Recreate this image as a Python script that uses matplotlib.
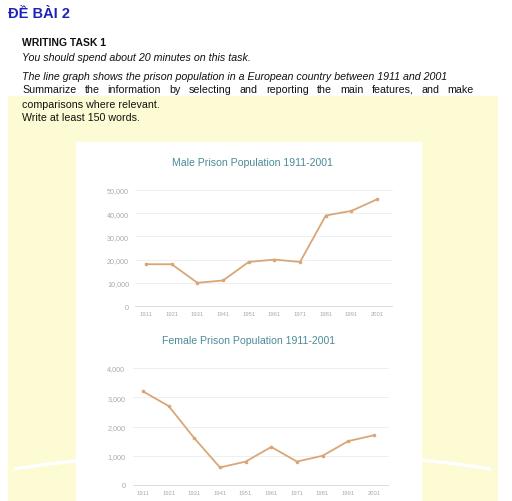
import numpy as np
import matplotlib.pyplot as plt
from matplotlib.patches import Rectangle, Ellipse

years = [1911, 1921, 1931, 1941, 1951, 1961, 1971, 1981, 1991, 2001]
male = [18000, 18000, 10000, 11000, 19000, 20000, 19000, 39000, 41000, 46000]
female = [3200, 2700, 1600, 600, 800, 1300, 800, 1000, 1500, 1700]
male_ticks = [0, 10000, 20000, 30000, 40000, 50000]
female_ticks = [0, 1000, 2000, 3000, 4000]

W, H = 512, 502
LINE = '#d9a777'
TITLE = '#4a8c98'
TICK = '#aaaaaa'
GRID = '#ececec'
FS = 7.7

plt.rcParams['font.family'] = ['Liberation Sans', 'DejaVu Sans']
fig = plt.figure(figsize=(W / 100, H / 100), dpi=100)

# page background in pixel coordinates
bg = fig.add_axes([0, 0, 1, 1])
bg.set_xlim(0, W)
bg.set_ylim(H, 0)
bg.axis('off')
box = Rectangle((8, 97), 489, 405, color='#fdfbd3', zorder=0)
bg.add_patch(box)
arc = Ellipse((253, 539), 800, 172, fill=False, ec='white', lw=2.5, zorder=1)
bg.add_patch(arc)
arc.set_clip_path(Rectangle((14, 97), 477, 405, transform=bg.transData))
bg.add_patch(Rectangle((76, 143), 345, 359, color='white', zorder=2))

bg.text(8, 14, 'ĐỀ BÀI 2', fontsize=10.5, weight='bold', color='#1d22b8', va='center')
bg.text(22, 43, 'WRITING TASK 1', fontsize=7.5, weight='bold', color='#111', va='center')
bg.text(22, 58, 'You should spend about 20 minutes on this task.', fontsize=FS, style='italic',
        color='#111', va='center')
bg.text(22, 77, 'The line graph shows the prison population in a European country between 1911 and 2001',
        fontsize=FS, style='italic', color='#111', va='center')
bg.text(22, 105, 'comparisons where relevant.', fontsize=FS, color='#111', va='center')
bg.text(22, 118, 'Write at least 150 words.', fontsize=FS, color='#111', va='center')

# justified line
words = 'Summarize the information by selecting and reporting the main features, and make'.split()
objs = [bg.text(0, 90, w, fontsize=FS, color='#111', va='center') for w in words]
fig.canvas.draw()
r = fig.canvas.get_renderer()
widths = [o.get_window_extent(r).width for o in objs]
gap = (474 - 22 - sum(widths)) / (len(words) - 1)
x = 22
for o, w in zip(objs, widths):
    o.set_x(x)
    x += w + gap


def chart(box, xlim, data, ticks, title, title_xy, ypad):
    ax = fig.add_axes([box[0] / W, 1 - box[3] / H, (box[2] - box[0]) / W, (box[3] - box[1]) / H])
    ax.plot(years, data, color=LINE, lw=1.3, marker='o', ms=1.6, zorder=3)
    ax.set_xlim(*xlim)
    ax.set_ylim(0, ticks[-1])
    ax.set_xticks(years)
    ax.set_xticklabels([str(y) for y in years])
    ax.set_yticks(ticks)
    ax.set_yticklabels([f'{t:,}' for t in ticks])
    for t in ticks:
        ax.axhline(t, color=GRID if t else '#d8d8d8', lw=0.6, zorder=1, clip_on=False)
    for s in ax.spines.values():
        s.set_visible(False)
    ax.tick_params(length=0, colors=TICK)
    ax.tick_params(axis='y', pad=ypad, labelsize=5.2)
    ax.tick_params(axis='x', pad=3.5, labelsize=4.2)
    ax.patch.set_alpha(0)
    bg.text(title_xy[0], title_xy[1], title, fontsize=7.6, color=TITLE, ha='center', va='center',
            zorder=5)
    return ax


chart((135, 191, 392, 307), (1906.7, 2006.8), male, male_ticks,
      'Male Prison Population 1911-2001', (252, 163), 4.3)
chart((133, 369, 388, 486), (1907.1, 2006.5), female, female_ticks,
      'Female Prison Population 1911-2001', (249, 341), 5.5)

fig.savefig('out.png', dpi=100)
